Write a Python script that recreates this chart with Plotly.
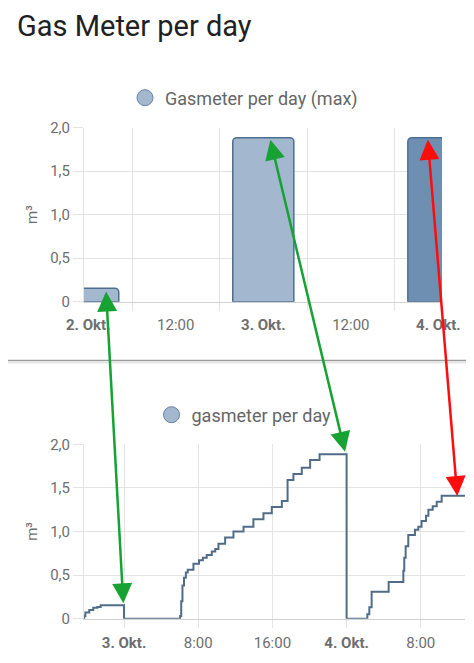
import plotly.graph_objects as go

# daily max (top card)
top_days = ["2023-10-02", "2023-10-03", "2023-10-04"]
top_max = [0.155, 1.885, 1.885]
top_tick_vals = ["2023-10-02 00:00", "2023-10-02 12:00", "2023-10-03 00:00",
                 "2023-10-03 12:00", "2023-10-04 00:00"]
top_tick_text = ["<b>2. Okt.</b>", "12:00", "<b>3. Okt.</b>", "12:00", "<b>4. Okt.</b>"]
top_grid_vals = ["2023-10-02 06:00", "2023-10-02 18:00", "2023-10-03 06:00", "2023-10-03 18:00"]

# running value per day (bottom card)
day_time = [
    "2023-10-02 19:41", "2023-10-02 19:43", "2023-10-02 19:50", "2023-10-02 20:15",
    "2023-10-02 20:41", "2023-10-02 21:07", "2023-10-02 21:29",
    "2023-10-03 00:00", "2023-10-03 06:03", "2023-10-03 06:10", "2023-10-03 06:18",
    "2023-10-03 06:28", "2023-10-03 06:40", "2023-10-03 06:52", "2023-10-03 07:29",
    "2023-10-03 08:05", "2023-10-03 08:30", "2023-10-03 08:55", "2023-10-03 09:28",
    "2023-10-03 09:50", "2023-10-03 10:11", "2023-10-03 10:54", "2023-10-03 11:48",
    "2023-10-03 12:53", "2023-10-03 13:57", "2023-10-03 15:02", "2023-10-03 15:56",
    "2023-10-03 17:01", "2023-10-03 17:38", "2023-10-03 18:16", "2023-10-03 19:10",
    "2023-10-03 20:04", "2023-10-03 21:05",
    "2023-10-04 00:00", "2023-10-04 02:14", "2023-10-04 02:27", "2023-10-04 02:42",
    "2023-10-04 04:32", "2023-10-04 06:07", "2023-10-04 06:13", "2023-10-04 06:22",
    "2023-10-04 06:39", "2023-10-04 07:22", "2023-10-04 07:44", "2023-10-04 08:05",
    "2023-10-04 08:34", "2023-10-04 08:49", "2023-10-04 09:17", "2023-10-04 09:43",
    "2023-10-04 10:15", "2023-10-04 12:46",
]
day_value = [
    0.0, 0.03, 0.07, 0.10, 0.125, 0.135, 0.155,
    0.0, 0.03, 0.20, 0.38, 0.47, 0.53, 0.56, 0.63,
    0.67, 0.70, 0.73, 0.77, 0.80, 0.86, 0.93, 1.00,
    1.055, 1.14, 1.21, 1.28, 1.35, 1.59, 1.66, 1.73,
    1.82, 1.885,
    0.0, 0.05, 0.13, 0.31, 0.42, 0.55, 0.70, 0.83,
    0.96, 1.02, 1.055, 1.12, 1.18, 1.25, 1.29, 1.34,
    1.41, 1.41,
]
bottom_tick_vals = ["2023-10-03 00:00", "2023-10-03 08:00", "2023-10-03 16:00",
                    "2023-10-04 00:00", "2023-10-04 08:00"]
bottom_tick_text = ["<b>3. Okt.</b>", "8:00", "16:00", "<b>4. Okt.</b>", "8:00"]

y_vals = [0, 0.5, 1.0, 1.5, 2.0]
y_text = ["0", "0,5", "1,0", "1,5", "2,0"]

# page has an 8px body margin, so the figure is a bit smaller than the window
OFF = 8
W, H = 474 - 2 * OFF, 663 - 2 * OFF


def fx(x):
    return (x - OFF) / W


def fy(y):
    return 1 - (y - OFF) / H


grid = "#e4e4e4"
tick_font = dict(family="Roboto", size=15, color="#6e6e6e")
fill = "#a3b8cf"
edge = "#4f6f90"

fig = go.Figure()

fig.add_trace(go.Bar(
    x=top_days, y=top_max, width=8.37 * 3600000,
    marker=dict(color=[fill, fill, "#6f8fb2"], line=dict(color=edge, width=1.5),
                cornerradius=4),
    showlegend=False, xaxis="x", yaxis="y"))
fig.add_trace(go.Scatter(
    x=[None], y=[None], mode="markers", name="Gasmeter per day (max)",
    marker=dict(size=20, color=fill, line=dict(color="#6684a3", width=1)),
    legend="legend", xaxis="x", yaxis="y"))

fig.add_trace(go.Scatter(
    x=day_time, y=day_value, mode="lines", line_shape="hv",
    line=dict(color="#516c89", width=2), showlegend=False, xaxis="x2", yaxis="y2"))
fig.add_trace(go.Scatter(
    x=[None], y=[None], mode="markers", name="gasmeter per day",
    marker=dict(size=20, color=fill, line=dict(color="#6684a3", width=1)),
    legend="legend2", xaxis="x2", yaxis="y2"))

yaxis_common = dict(range=[0, 2], tickvals=y_vals, ticktext=y_text, showgrid=True,
                    gridcolor=grid, ticks="outside", ticklen=10, tickcolor=grid,
                    showline=True, linecolor=grid, zeroline=False, tickfont=tick_font,
                    fixedrange=True, automargin=False)

fig.update_layout(
    width=W, height=H, margin=dict(l=0, r=0, t=0, b=0),
    paper_bgcolor="white", plot_bgcolor="white",
    font=dict(family="Roboto"),
    xaxis=dict(domain=[fx(84), fx(442)], anchor="y", type="date",
               range=["2023-10-01 23:25", "2023-10-04 00:30"],
               tickvals=top_tick_vals, ticktext=top_tick_text, ticks="",
               ticklabelstandoff=9, showgrid=False, showline=True, linecolor="#d2d2d2",
               zeroline=False, tickfont=tick_font, automargin=False,
               minor=dict(tickmode="array", tickvals=top_grid_vals, showgrid=True,
                          gridcolor=grid, ticks="outside", ticklen=8, tickcolor=grid)),
    yaxis=dict(domain=[fy(301.7), fy(127.7)], anchor="x",
               title=dict(text="m³", font=dict(size=15, color="#6e6e6e"), standoff=8),
               **yaxis_common),
    xaxis2=dict(domain=[fx(84), fx(465)], anchor="y2", type="date",
                range=["2023-10-02 19:41", "2023-10-04 12:46"],
                tickvals=bottom_tick_vals, ticktext=bottom_tick_text, ticks="outside",
                ticklen=8, tickcolor=grid, ticklabelstandoff=2, showgrid=True,
                gridcolor=grid, showline=True, linecolor="#d2d2d2", zeroline=False,
                tickfont=tick_font, automargin=False),
    yaxis2=dict(domain=[fy(618.7), fy(444.3)], anchor="x2",
                title=dict(text="m³", font=dict(size=15, color="#6e6e6e"), standoff=8),
                **yaxis_common),
    legend=dict(x=fx(244), y=fy(98), xanchor="center", yanchor="middle",
                orientation="h", font=dict(size=18, color="#666666"),
                bgcolor="rgba(0,0,0,0)"),
    legend2=dict(x=fx(244), y=fy(415), xanchor="center", yanchor="middle",
                 orientation="h", font=dict(size=18, color="#666666"),
                 bgcolor="rgba(0,0,0,0)"),
    shapes=[
        dict(type="line", xref="paper", yref="paper", x0=0, x1=1,
             y0=fy(360.5), y1=fy(360.5), line=dict(color="#9a9a9a", width=1.5)),
        dict(type="line", xref="paper", yref="paper", x0=0, x1=1,
             y0=fy(362.5), y1=fy(362.5), line=dict(color="#e6e6e6", width=2)),
    ],
)

fig.add_annotation(text="Gas Meter per day", xref="paper", yref="paper",
                   x=fx(16), y=1, xanchor="left", yanchor="top", borderpad=0,
                   showarrow=False, font=dict(family="Roboto", size=29, color="#212121"))

# comparison arrows: (head x, head y, tail x, tail y) in window pixels, colour
arrows = [
    (123.3, 603.3, 106.0, 290.0, "#17a233"),
    (345.0, 451.7, 270.0, 138.3, "#17a233"),
    (457.3, 496.0, 427.7, 138.3, "#ff0d0d"),
]
for hx, hy, tx, ty, col in arrows:
    fig.add_annotation(xref="paper", yref="paper", x=fx(hx), y=fy(hy),
                       axref="pixel", ayref="pixel", ax=tx - hx, ay=ty - hy,
                       showarrow=True, arrowside="end+start", arrowhead=2,
                       startarrowhead=2, arrowsize=1.6, startarrowsize=1.6,
                       arrowwidth=2.5, arrowcolor=col, text="")

fig.write_html("out.html")
